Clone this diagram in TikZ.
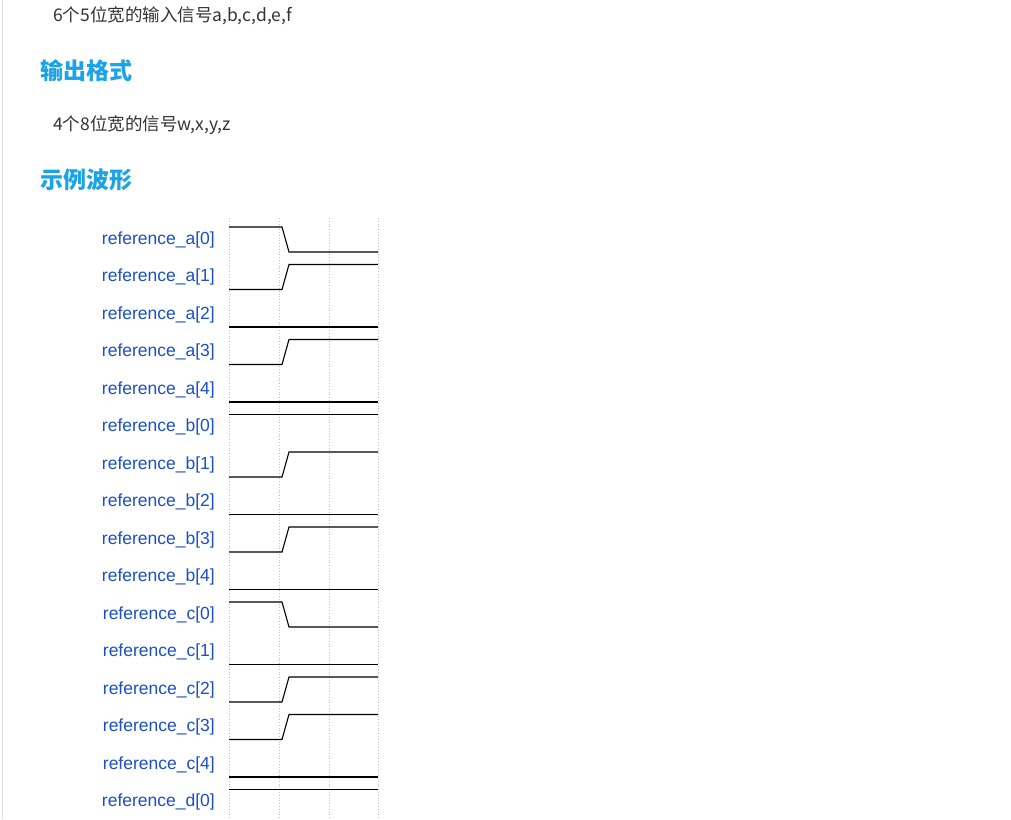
\documentclass[tikz,border=0pt]{standalone}
\usepackage{fontspec}
\setmainfont{Liberation Sans}
\newfontfamily\cjk{Noto Sans CJK SC}
\definecolor{head}{HTML}{1AA3E8}
\definecolor{lab}{HTML}{1A4FC8}
\definecolor{txt}{HTML}{333333}
\begin{document}
\begin{tikzpicture}[x=1pt,y=-1pt,
  body/.style={anchor=west,inner sep=0pt,text=txt,font=\cjk\fontsize{17.5}{20}\selectfont},
  heading/.style={anchor=west,inner sep=0pt,text=head,font=\cjk\bfseries\fontsize{23}{26}\selectfont},
  siglab/.style={anchor=east,inner sep=0pt,text=lab,font=\fontsize{17.5}{20}\selectfont},
  wave/.style={line width=1.1pt,black},
  grid/.style={gray!50,dotted,line width=0.8pt}]
\useasboundingbox (0,0) rectangle (1011,819);
\draw[gray!25,line width=1pt] (2,0) -- (2,819);
\node[body] (t1) at (53,16) {6个5位宽的输入信号a,b,c,d,e,f};
\node[heading] (h1) at (40,71) {输出格式};
\node[body] (t2) at (53,125) {4个8位宽的信号w,x,y,z};
\node[heading] (h2) at (40,180) {示例波形};
\foreach \x in {229,279,329,378} \draw[grid] (\x,218) -- (\x,819);
\foreach \n/\v [count=\i from 0] in {a[0]/hl,a[1]/lh,a[2]/ll,a[3]/lh,a[4]/ll,b[0]/hh,b[1]/lh,b[2]/ll,b[3]/lh,b[4]/ll,c[0]/hl,c[1]/ll,c[2]/lh,c[3]/lh,c[4]/ll,d[0]/hh}{
  \pgfmathsetmacro{\yc}{239.5+37.5*\i}
  \node[siglab] (l\i) at (215,\yc) {reference\_\n};
  \ifx\v\empty\fi
  \edef\tmp{\v}
  \def\hl{hl}\def\lh{lh}\def\ll{ll}\def\hh{hh}
  \ifx\tmp\hl \draw[wave] (229,\yc-12.5) -- (282,\yc-12.5) -- (289,\yc+12.5) -- (378,\yc+12.5);\fi
  \ifx\tmp\lh \draw[wave] (229,\yc+12.5) -- (282,\yc+12.5) -- (289,\yc-12.5) -- (378,\yc-12.5);\fi
  \ifx\tmp\ll \draw[wave] (229,\yc+12.5) -- (378,\yc+12.5);\fi
  \ifx\tmp\hh \draw[wave] (229,\yc-12.5) -- (378,\yc-12.5);\fi
}
\end{tikzpicture}
\end{document}
